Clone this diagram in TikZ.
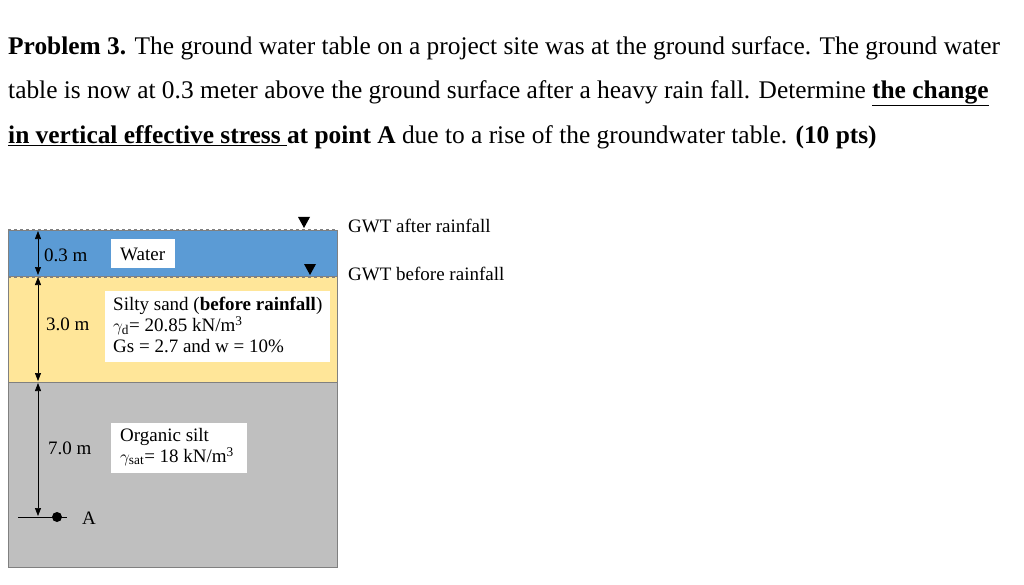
\documentclass[tikz,border=0pt]{standalone}
\usepackage{fontspec}
\setmainfont{Liberation Serif}
\usetikzlibrary{arrows.meta}
\begin{document}
\begin{tikzpicture}[x=1pt,y=-1pt,
  tl/.style={anchor=west,inner sep=0,font=\fontsize{25.4}{30}\selectfont},
  lbl/.style={font=\fontsize{19}{22}\selectfont,inner sep=0},
  dim/.style={{Triangle[length=8pt,width=6pt]}-{Triangle[length=8pt,width=6pt]},line width=0.7pt},
  tri/.style={fill=black}]
\useasboundingbox (0,0) rectangle (1024,585);
\node[tl] (t1) at (8,48) {\textbf{Problem 3.} The ground water table on a project site was at the ground surface. The ground water};
\node[tl] (t2) at (8,93) {table is now at 0.3 meter above the ground surface after a heavy rain fall. Determine \textbf{\underline{the change}}};
\node[tl] (t3) at (8,137) {\textbf{\underline{in vertical effective stress }at point A} due to a rise of the groundwater table. \textbf{(10 pts)}};
% layers
\draw[fill={rgb,255:red,91;green,155;blue,213},draw=gray] (8,230) rectangle (337,276);
\draw[fill={rgb,255:red,255;green,230;blue,153},draw=gray] (8,276) rectangle (337,382);
\draw[fill={rgb,255:red,191;green,191;blue,191},draw=gray] (8,382) rectangle (337,567);
\draw[dashed,gray] (8,229) -- (337,229);
\draw[dashed,gray,line width=0.4pt] (8,277) -- (337,277);
\fill[tri] (298,217) -- (310,217) -- (304,228) -- cycle;
\fill[tri] (304,264) -- (316,264) -- (310,275) -- cycle;
% dims
\coordinate (d0) at (38,231); \coordinate (d1) at (38,275);
\coordinate (d2) at (38,277); \coordinate (d3) at (38,381);
\coordinate (d4) at (38,383); \coordinate (d5) at (38,516);
\draw[dim] (d0) -- (d1);
\draw[dim] (d2) -- (d3);
\draw[dim] (d4) -- (d5);
\coordinate (h0) at (18,517); \coordinate (h1) at (67,517);
\draw[line width=0.7pt] (h0) -- (h1);
\node[circle,fill=black,inner sep=0,minimum size=10pt] (A) at (57,517) {};
\node[lbl,anchor=west] (Al) at (82,518) {A};
\node[lbl,anchor=west] (l1) at (44,255) {0.3 m};
\node[lbl,anchor=west] (l2) at (46,324) {3.0 m};
\node[lbl,anchor=west] (l3) at (48,448) {7.0 m};
% boxes
\fill[white] (111,239) rectangle (175,268);
\node[lbl,anchor=west] (w) at (120,254) {Water};
\fill[white] (105,291) rectangle (330,362);
\node[lbl,anchor=north west,align=left] (s) at (113,297) {Silty sand (\textbf{before rainfall})\\[-1pt]$\gamma_{\mathrm{d}}$= 20.85 kN/m\textsuperscript{3}\\[-1pt]Gs = 2.7 and w = 10\%};
\fill[white] (111,423) rectangle (247,473);
\node[lbl,anchor=north west,align=left] (o) at (120,428) {Organic silt\\[-1pt]$\gamma_{\mathrm{sat}}$= 18 kN/m\textsuperscript{3}};
\node[lbl,anchor=west] (g1) at (348,226) {GWT after rainfall};
\node[lbl,anchor=west] (g2) at (348,274) {GWT before rainfall};
\end{tikzpicture}
\end{document}
